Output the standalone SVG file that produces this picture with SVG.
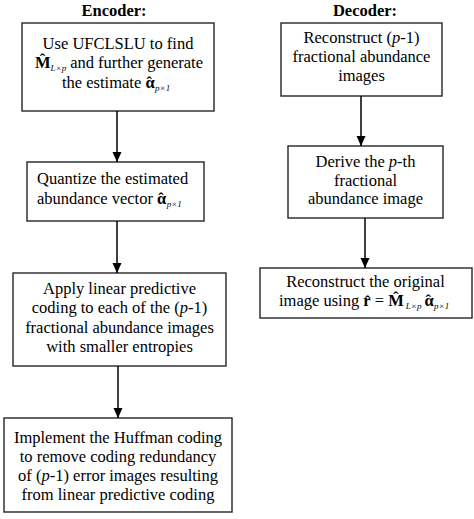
<svg xmlns="http://www.w3.org/2000/svg" width="474" height="519" viewBox="0 0 474 519">
<defs>
<style>
.box{fill:#fff;stroke:#333;stroke-width:1.5}
text{font-family:"Liberation Serif","Times New Roman",serif;font-size:16.5px;fill:#000}
.t{font-weight:bold}
.c{text-anchor:middle}
.sub{font-size:9px;font-style:italic}
.b{font-weight:bold}
.i{font-style:italic}
.conn line{stroke:#000;stroke-width:1.5}
</style>
<marker id="ah" markerUnits="userSpaceOnUse" markerWidth="10" markerHeight="10" refX="10" refY="4.5" orient="auto">
<path d="M0,0 L10,4.5 L0,9 z" fill="#000"/>
</marker>
</defs>
<rect width="474" height="519" fill="#fff"/>
<text class="t c" x="114" y="16">Encoder:</text>
<text class="t c" x="365" y="16">Decoder:</text>

<g id="enc1">
<rect class="box" x="22" y="23" width="192" height="88"/>
<text class="c" x="118" y="49">Use UFCLSLU to find</text>
<text x="35" y="68"><tspan class="b">M̂</tspan><tspan class="sub" dy="3">L×p</tspan><tspan dy="-3" dx="4">and further generate</tspan></text>
<text x="62" y="88">the estimate <tspan class="b">α</tspan><tspan class="b" dx="-8">ˆ</tspan><tspan class="sub" dy="3" dx="3">p×1</tspan></text>
</g>

<g id="enc2">
<rect class="box" x="27" y="162" width="177" height="59"/>
<text x="37" y="184">Quantize the estimated</text>
<text x="37" y="204">abundance vector <tspan class="b">α</tspan><tspan class="b" dx="-8">ˆ</tspan><tspan class="sub" dy="3" dx="3">p×1</tspan></text>
</g>

<g id="enc3">
<rect class="box" x="13" y="273" width="213" height="93"/>
<text class="c" x="119.5" y="294">Apply linear predictive</text>
<text class="c" x="119.5" y="313">coding to each of the (<tspan class="i">p</tspan>-1)</text>
<text class="c" x="119.5" y="333">fractional abundance images</text>
<text class="c" x="119.5" y="352">with smaller entropies</text>
</g>

<g id="enc4">
<rect class="box" x="4" y="418" width="228" height="94"/>
<text class="c" x="118" y="443">Implement the Huffman coding</text>
<text class="c" x="118" y="462">to remove coding redundancy</text>
<text class="c" x="118" y="481">of (<tspan class="i">p</tspan>-1) error images resulting</text>
<text class="c" x="118" y="500">from linear predictive coding</text>
</g>

<g id="dec1">
<rect class="box" x="281" y="23" width="161" height="73"/>
<text class="c" x="361.5" y="43">Reconstruct (<tspan class="i">p</tspan>-1)</text>
<text class="c" x="361.5" y="62">fractional abundance</text>
<text class="c" x="361.5" y="81">images</text>
</g>

<g id="dec2">
<rect class="box" x="288" y="146" width="155" height="72"/>
<text class="c" x="365.5" y="167">Derive the <tspan class="i">p</tspan>-th</text>
<text class="c" x="365.5" y="186">fractional</text>
<text class="c" x="365.5" y="204">abundance image</text>
</g>

<g id="dec3">
<rect class="box" x="260" y="268" width="212" height="50"/>
<text class="c" x="365.5" y="287">Reconstruct the original</text>
<text x="279" y="306">image using <tspan class="b">r̂</tspan> = <tspan class="b">M̂</tspan><tspan class="sub" dy="3" dx="2">L×p</tspan><tspan class="b" dy="-3" dx="3">α</tspan><tspan class="b" dx="-8">ˆ</tspan><tspan class="sub" dy="3" dx="3">p×1</tspan></text>
</g>

<g class="conn" id="connectors">
<line x1="117" y1="111" x2="117" y2="162" marker-end="url(#ah)"/>
<line x1="117" y1="221" x2="117" y2="273" marker-end="url(#ah)"/>
<line x1="118" y1="366" x2="118" y2="418" marker-end="url(#ah)"/>
<line x1="361" y1="96" x2="361" y2="146" marker-end="url(#ah)"/>
<line x1="365" y1="218" x2="365" y2="268" marker-end="url(#ah)"/>
</g>
</svg>
